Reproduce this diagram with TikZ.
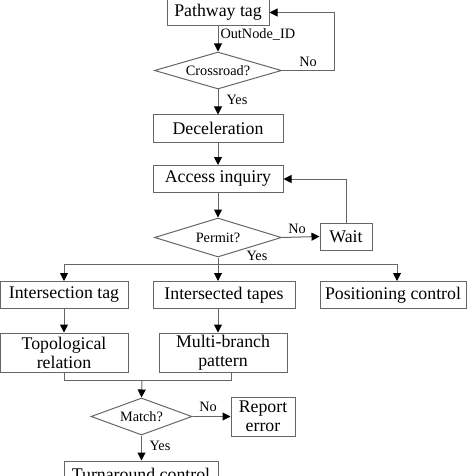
\documentclass[tikz,border=0pt]{standalone}
\usepackage{fontspec}
\setmainfont{Liberation Serif}
\usetikzlibrary{shapes.geometric,arrows.meta,calc}
\definecolor{edge}{gray}{0.4}
\tikzset{
  box/.style={
    shape = rectangle,
    draw = edge,
    line width = 1,
    inner sep = 0,
    minimum height = 27,
    align = center,
    font = \fontsize{17.8}{19}\selectfont
  },
  decision/.style={
    shape = diamond,
    draw = edge,
    line width = 1,
    inner sep = 0,
    aspect = 3.4,
    font = \fontsize{14.3}{16}\selectfont
  },
  flow/.style={
    draw = edge,
    line width = 1,
    -{Triangle[length=8,width=8,color=black]}
  },
  link/.style={
    draw = edge,
    line width = 1
  },
  answer/.style={
    inner sep = 0,
    font = \fontsize{14.3}{16}\selectfont
  }
}

\begin{document}
\begin{tikzpicture}[x=1pt, y=-1pt]
        \useasboundingbox (0,0) rectangle (474,476);
        \clip (0,0) rectangle (474,476);

        % main column
        \node[box, minimum width=102] (pathway) at (218,12.5) {Pathway tag};
        \node[decision, minimum width=127, minimum height=37] (cross) at (218,70.5) {Crossroad?};
        \node[box, minimum width=130] (decel) at (218,128.5) {Deceleration};
        \node[box, minimum width=130] (access) at (218,179) {Access inquiry};
        \node[decision, minimum width=127, minimum height=39] (permit) at (218,237.5) {Permit?};
        \node[box, minimum width=52] (wait) at (346,236.5) {Wait};

        % three branches
        \node[box, minimum width=128] (inttag) at (64,295) {Intersection tag};
        \node[box, minimum width=142] (tapes) at (224,295) {Intersected tapes};
        \node[box, minimum width=146] (posctrl) at (393,295) {Positioning control};
        \node[box, minimum width=128, minimum height=39] (topo) at (64,352.5) {Topological\\relation};
        \node[box, minimum width=128, minimum height=39] (multi) at (223,352.5) {Multi-branch\\pattern};

        % matching
        \node[decision, minimum width=101, minimum height=37] (match) at (141.5,416.5) {Match?};
        \node[box, minimum width=64, minimum height=39] (report) at (263,416.5) {Report\\error};
        \node[box, minimum width=154] (turn) at (141,474.5) {Turnaround control};

        \coordinate (split) at (218,264);
        \coordinate (merge) at (142,380);

        \draw[flow] (pathway) -- (cross) node[answer, anchor=west, pos=0.3, xshift=2] (outid) {OutNode\_ID};
        \draw[flow] (cross.east) -- ++(52,0) |- (pathway.east);
        \node[answer] (no1) at (308,62) {No};
        \draw[flow] (cross) -- (decel);
        \node[answer] (yes1) at (237,100) {Yes};
        \draw[flow] (decel) -- (access);
        \draw[flow] (access) -- (permit);
        \draw[flow] (permit.east) -- (wait.west);
        \node[answer] (no2) at (297,229) {No};
        \draw[flow] (wait.north) |- (access.east);
        \node[answer] (yes2) at (257,256) {Yes};

        \draw[link] (permit.south) -- (split);
        \draw[flow] (split) -| (inttag.north);
        \draw[flow] (split) -| ([xshift=4]posctrl.north);
        \draw[flow] (split) -- (split |- tapes.north);

        \draw[flow] (inttag) -- (topo);
        \draw[flow] (split |- tapes.south) -- (split |- multi.north);

        \draw[link] (topo.south) |- (merge);
        \draw[link] ([xshift=8]multi.south) |- (merge);
        \draw[flow] (merge) -- (match.north);
        \draw[flow] (match.east) -- (report.west);
        \node[answer] (no3) at (208,407) {No};
        \draw[flow] (match.south) -- (match.south |- turn.north);
        \node[answer] (yes3) at (160,446) {Yes};
\end{tikzpicture}
\end{document}
